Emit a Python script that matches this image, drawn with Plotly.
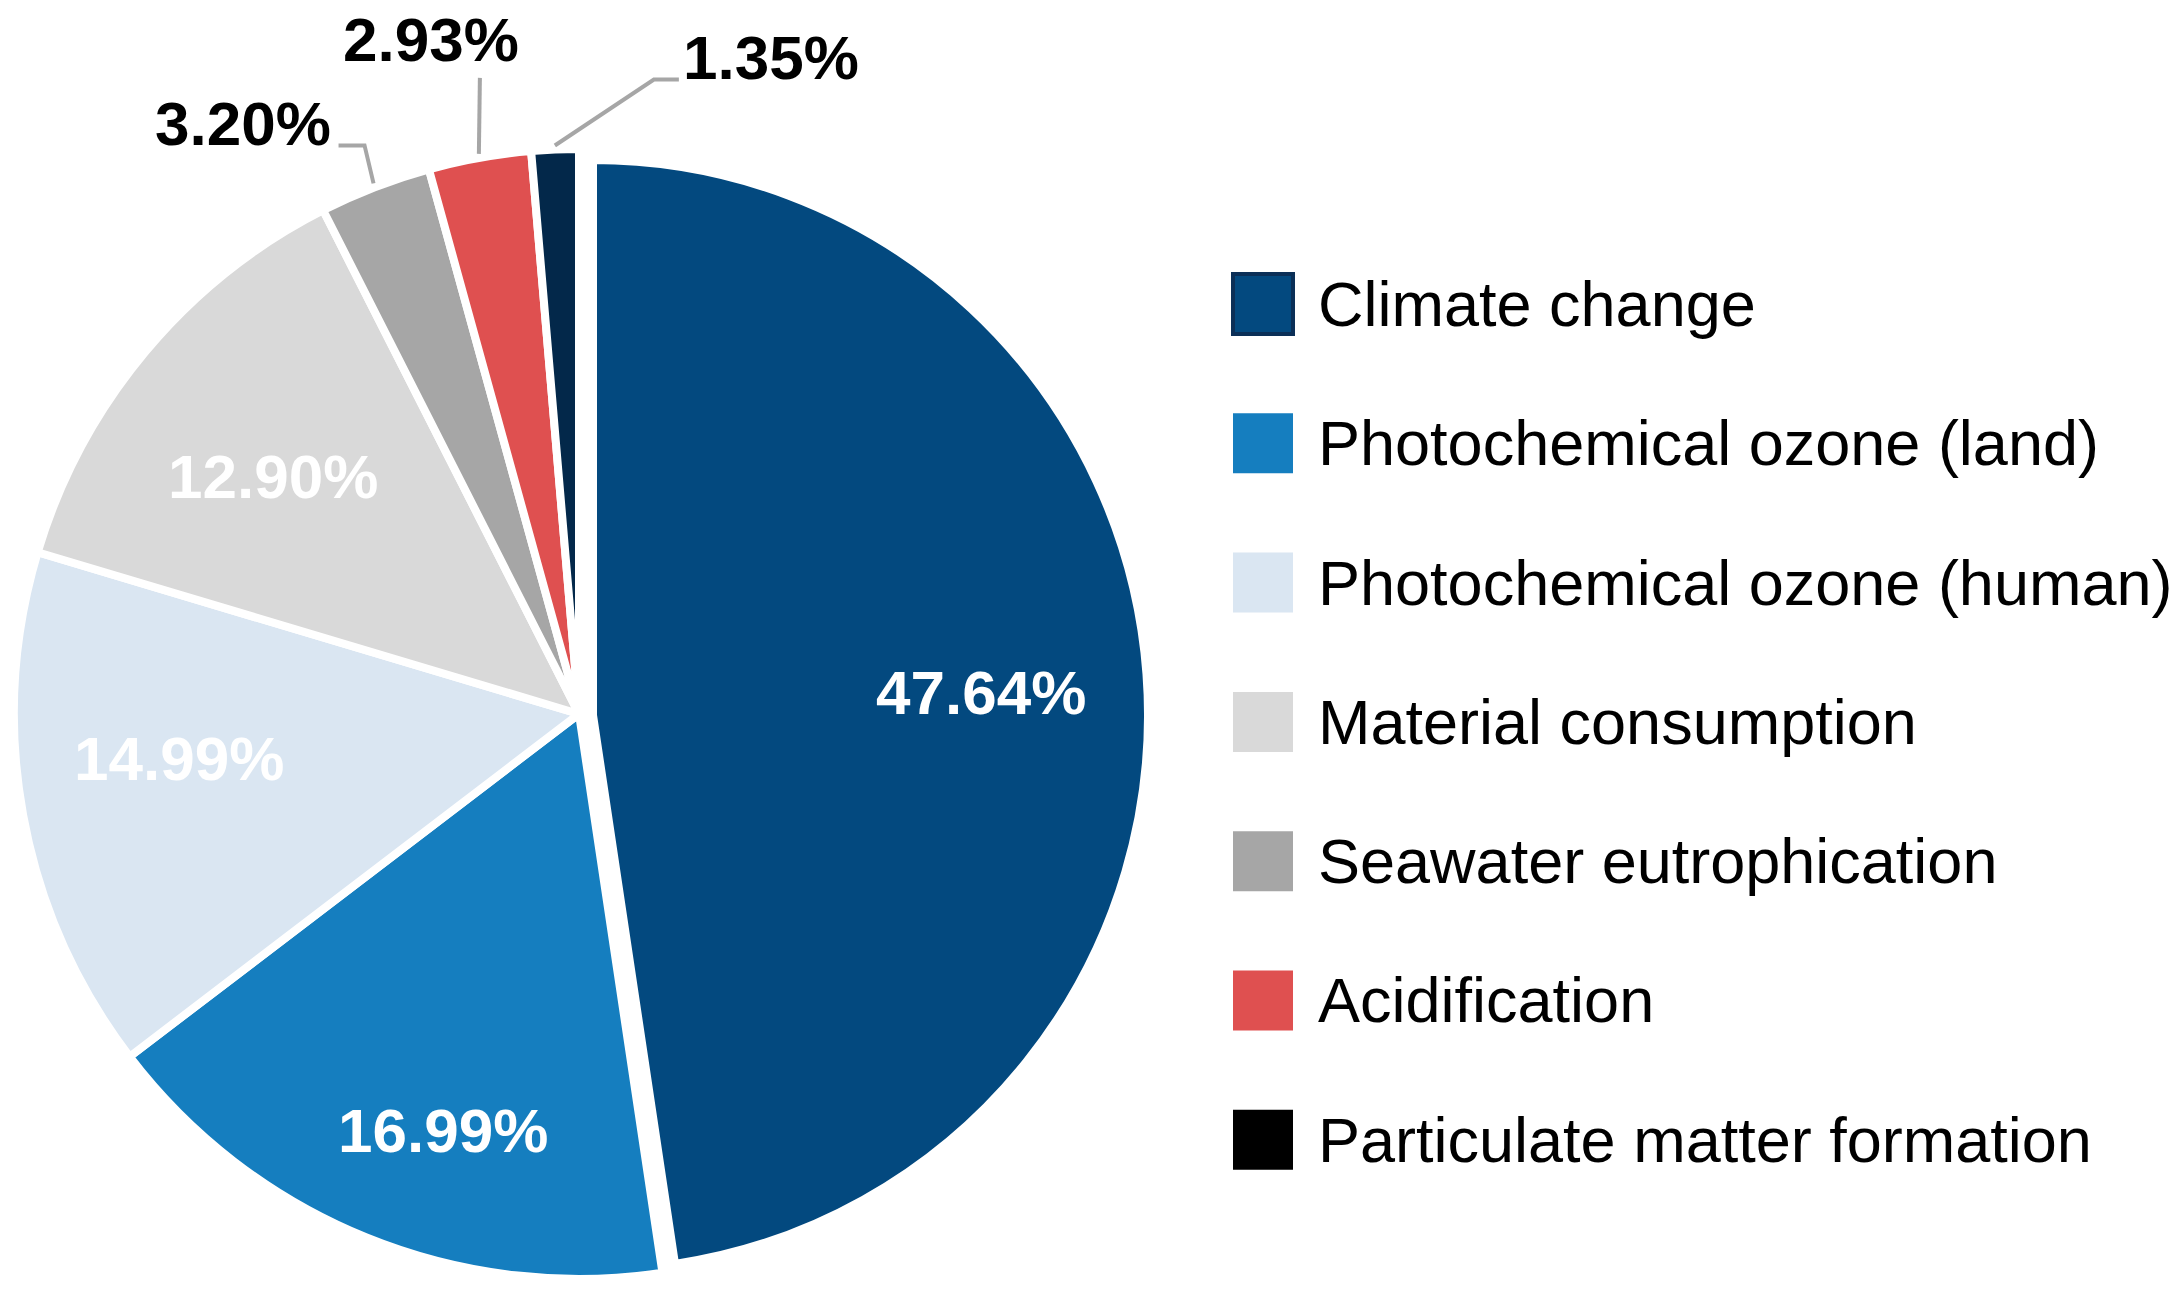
import math
import plotly.graph_objects as go

# ---------------- data ----------------
categories = [
    "Climate change",
    "Photochemical ozone (land)",
    "Photochemical ozone (human)",
    "Material consumption",
    "Seawater eutrophication",
    "Acidification",
    "Particulate matter formation",
]
shares = [47.64, 16.99, 14.99, 12.90, 3.20, 2.93, 1.35]

# ---------------- style ----------------
slice_colors = ["#03497F", "#157EBF", "#DAE6F2", "#D9D9D9", "#A6A6A6", "#DF5050", "#03284A"]
legend_colors = ["#03497F", "#157EBF", "#DAE6F2", "#D9D9D9", "#A6A6A6", "#DF5050", "#000000"]
exploded = [True, False, False, False, False, False, False]   # slice drawn exploded
label_inside = [True, True, True, True, False, False, False]
# inside labels: (fraction of radius, angular nudge in degrees)
inside_pos = {0: (0.70, 1.0), 1: (0.775, -4.0), 2: (0.713, 4.0), 3: (0.685, -2.0)}
# outside labels: leader-line elbows (pixel offsets) and label anchor offsets
outside_leader = {
    4: dict(pts=[(-9, -38), (-26, 0)], lab=(-6, -22), xanchor="right"),
    5: dict(pts=[(1, -76)], lab=(-49, -38), xanchor="center"),
    6: dict(pts=[(99, -66), (25, 0)], lab=(2, -22), xanchor="left"),
}

W, H = 2184, 1292
FONT = "Liberation Sans, Arial, Helvetica, sans-serif"
FS = 62
LEG_FS = 63
TRANSPARENT = "rgba(0,0,0,0)"

# pie placement (pixels): main pie, and the exploded slice
MAIN_C, MAIN_R = (579.0, 714.0), 565.0
EXPL_C, EXPL_R = (593.0, 715.0), 555.0


def domain_for(c, rad):
    return dict(x=[(c[0] - rad) / W, (c[0] + rad) / W],
                y=[1 - (c[1] + rad) / H, 1 - (c[1] - rad) / H])


def paper(x, y):
    return x / W, 1 - y / H


total = sum(shares)
mids = []
acc = 0.0
for v in shares:
    mids.append((acc + v / 2) / total * 360.0)
    acc += v

common = dict(labels=categories, values=shares, sort=False, direction="clockwise",
              rotation=0, textinfo="none", showlegend=False,
              hovertemplate="%{label}: %{value:.2f}%<extra></extra>")

fig = go.Figure()
fig.add_trace(go.Pie(
    **common,
    marker=dict(colors=[TRANSPARENT if e else c for c, e in zip(slice_colors, exploded)],
                line=dict(color="white", width=[0 if e else 8 for e in exploded])),
    domain=domain_for(MAIN_C, MAIN_R),
))
fig.add_trace(go.Pie(
    **common,
    marker=dict(colors=[c if e else TRANSPARENT for c, e in zip(slice_colors, exploded)],
                line=dict(color="white", width=[8 if e else 0 for e in exploded])),
    domain=domain_for(EXPL_C, EXPL_R),
    hoverinfo="skip",
))

annotations = []
shapes = []

for i, v in enumerate(shares):
    th = mids[i]
    (ox, oy), r = (EXPL_C, EXPL_R) if exploded[i] else (MAIN_C, MAIN_R)
    txt = f"{v:.2f}%"
    if label_inside[i]:
        frac, dth = inside_pos[i]
        a = math.radians(th + dth)
        lx = ox + frac * r * math.sin(a)
        ly = oy - frac * r * math.cos(a)
        px, py = paper(lx, ly)
        annotations.append(dict(
            x=px, y=py, xref="paper", yref="paper", text=txt, showarrow=False,
            xanchor="center", yanchor="middle",
            font=dict(family=FONT, size=FS, color="white", weight="bold"),
        ))
    else:
        a = math.radians(th)
        ax = ox + (r + 4) * math.sin(a)
        ay = oy - (r + 4) * math.cos(a)
        spec = outside_leader[i]
        pts = [(ax, ay)]
        for dx, dy in spec["pts"]:
            pts.append((pts[-1][0] + dx, pts[-1][1] + dy))
        path = ""
        for k, (x, y) in enumerate(pts):
            pxx, pyy = paper(x, y)
            path += ("M" if k == 0 else " L") + f"{pxx:.5f},{pyy:.5f}"
        shapes.append(dict(type="path", xref="paper", yref="paper", path=path,
                           line=dict(color="#A6A6A6", width=4)))
        lx = pts[-1][0] + spec["lab"][0]
        ly = pts[-1][1] + spec["lab"][1]
        px, py = paper(lx, ly)
        annotations.append(dict(
            x=px, y=py, xref="paper", yref="paper", text=txt, showarrow=False,
            xanchor=spec["xanchor"], yanchor="middle",
            font=dict(family=FONT, size=FS, color="black", weight="bold"),
        ))

# legend (drawn from the category / colour lists)
LEG_X0, LEG_SQ, LEG_Y0, LEG_DY, LEG_TX = 1233, 60, 304, 139.3, 1316
for i, name in enumerate(categories):
    yc = LEG_Y0 + i * LEG_DY
    x0, y0 = paper(LEG_X0, yc - LEG_SQ / 2)
    x1, y1 = paper(LEG_X0 + LEG_SQ, yc + LEG_SQ / 2)
    if i == 0:
        line = dict(color="#0B2F57", width=4)
    else:
        line = dict(width=0)
    shapes.append(dict(type="rect", xref="paper", yref="paper", x0=x0, y0=y0, x1=x1, y1=y1,
                       fillcolor=legend_colors[i], line=line))
    tx, ty = paper(LEG_TX, yc)
    annotations.append(dict(
        x=tx, y=ty, xref="paper", yref="paper", text=name, showarrow=False,
        xanchor="left", yanchor="middle",
        font=dict(family=FONT, size=LEG_FS, color="black"),
    ))

fig.update_layout(
    width=W, height=H,
    margin=dict(l=0, r=0, t=0, b=0, pad=0),
    paper_bgcolor="white", plot_bgcolor="white",
    showlegend=False,
    annotations=annotations,
    shapes=shapes,
)

fig.write_html(
    "out.html",
    config={"displayModeBar": False},
    post_script="document.body.style.margin='0';document.body.style.overflow='hidden';",
)
